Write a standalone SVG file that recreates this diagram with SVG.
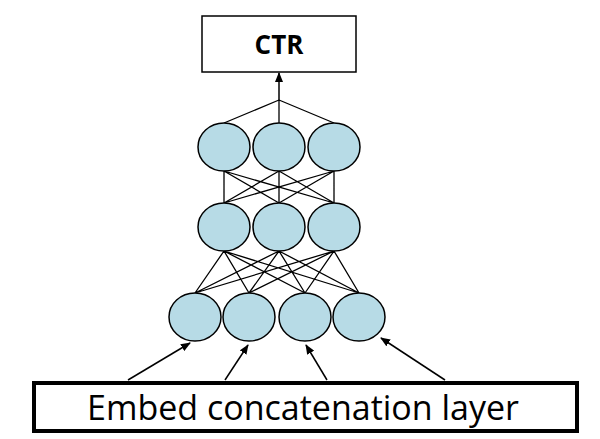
<svg xmlns="http://www.w3.org/2000/svg" width="600" height="439" viewBox="0 0 600 439">
<style>
.n{fill:#b7dbe6;stroke:#000;stroke-width:1.5}
.l{stroke:#000;stroke-width:1.3;fill:none}
.a{stroke:#000;stroke-width:1.5;fill:none;marker-end:url(#ah)}
.t{font-family:"Open Sans","DejaVu Sans",sans-serif;fill:#000}
</style>
<defs><marker id="ah" markerWidth="10" markerHeight="8" refX="9" refY="4" orient="auto" markerUnits="userSpaceOnUse"><path d="M0,0L10,4L0,8z" fill="#000"/></marker></defs>
<rect width="600" height="439" fill="#fff"/>
<g id="connectors">
<path class="l" d="M224,123L279,100M279,123L279,100M334,123L279,100"/>
<path class="a" d="M279,100L279,73"/>
<path class="l" d="M224,171L224,203M224,171L279,203M224,171L334,203M279,171L224,203M279,171L279,203M279,171L334,203M334,171L224,203M334,171L279,203M334,171L334,203"/>
<path class="l" d="M224,251L195,293M224,251L249,293M224,251L305,293M224,251L359,293M279,251L195,293M279,251L249,293M279,251L305,293M279,251L359,293M334,251L195,293M334,251L249,293M334,251L305,293M334,251L359,293"/>
<path class="a" d="M128,380L190,343"/>
<path class="a" d="M225,380L248,345"/>
<path class="a" d="M327,380L306,345"/>
<path class="a" d="M445,380L381,338"/>
</g>
<g id="ctr"><rect x="202" y="16" width="154" height="56" fill="#fff" stroke="#000" stroke-width="1.5"/><text class="t" x="279" y="54" font-size="26" font-weight="bold" text-anchor="middle">CTR</text></g>
<g id="h1a"><ellipse class="n" cx="224" cy="147" rx="26" ry="24"/></g>
<g id="h1b"><ellipse class="n" cx="279" cy="147" rx="26" ry="24"/></g>
<g id="h1c"><ellipse class="n" cx="334" cy="147" rx="26" ry="24"/></g>
<g id="h2a"><ellipse class="n" cx="224" cy="227" rx="26" ry="24"/></g>
<g id="h2b"><ellipse class="n" cx="279" cy="227" rx="26" ry="24"/></g>
<g id="h2c"><ellipse class="n" cx="334" cy="227" rx="26" ry="24"/></g>
<g id="i1"><ellipse class="n" cx="195" cy="317" rx="26" ry="24"/></g>
<g id="i2"><ellipse class="n" cx="249" cy="317" rx="26" ry="24"/></g>
<g id="i3"><ellipse class="n" cx="305" cy="317" rx="26" ry="24"/></g>
<g id="i4"><ellipse class="n" cx="359" cy="317" rx="26" ry="24"/></g>
<g id="embed"><rect x="34" y="383" width="543" height="48" fill="#fff" stroke="#000" stroke-width="4"/><text class="t" x="303" y="420" font-size="34" text-anchor="middle">Embed concatenation layer</text></g>
</svg>
